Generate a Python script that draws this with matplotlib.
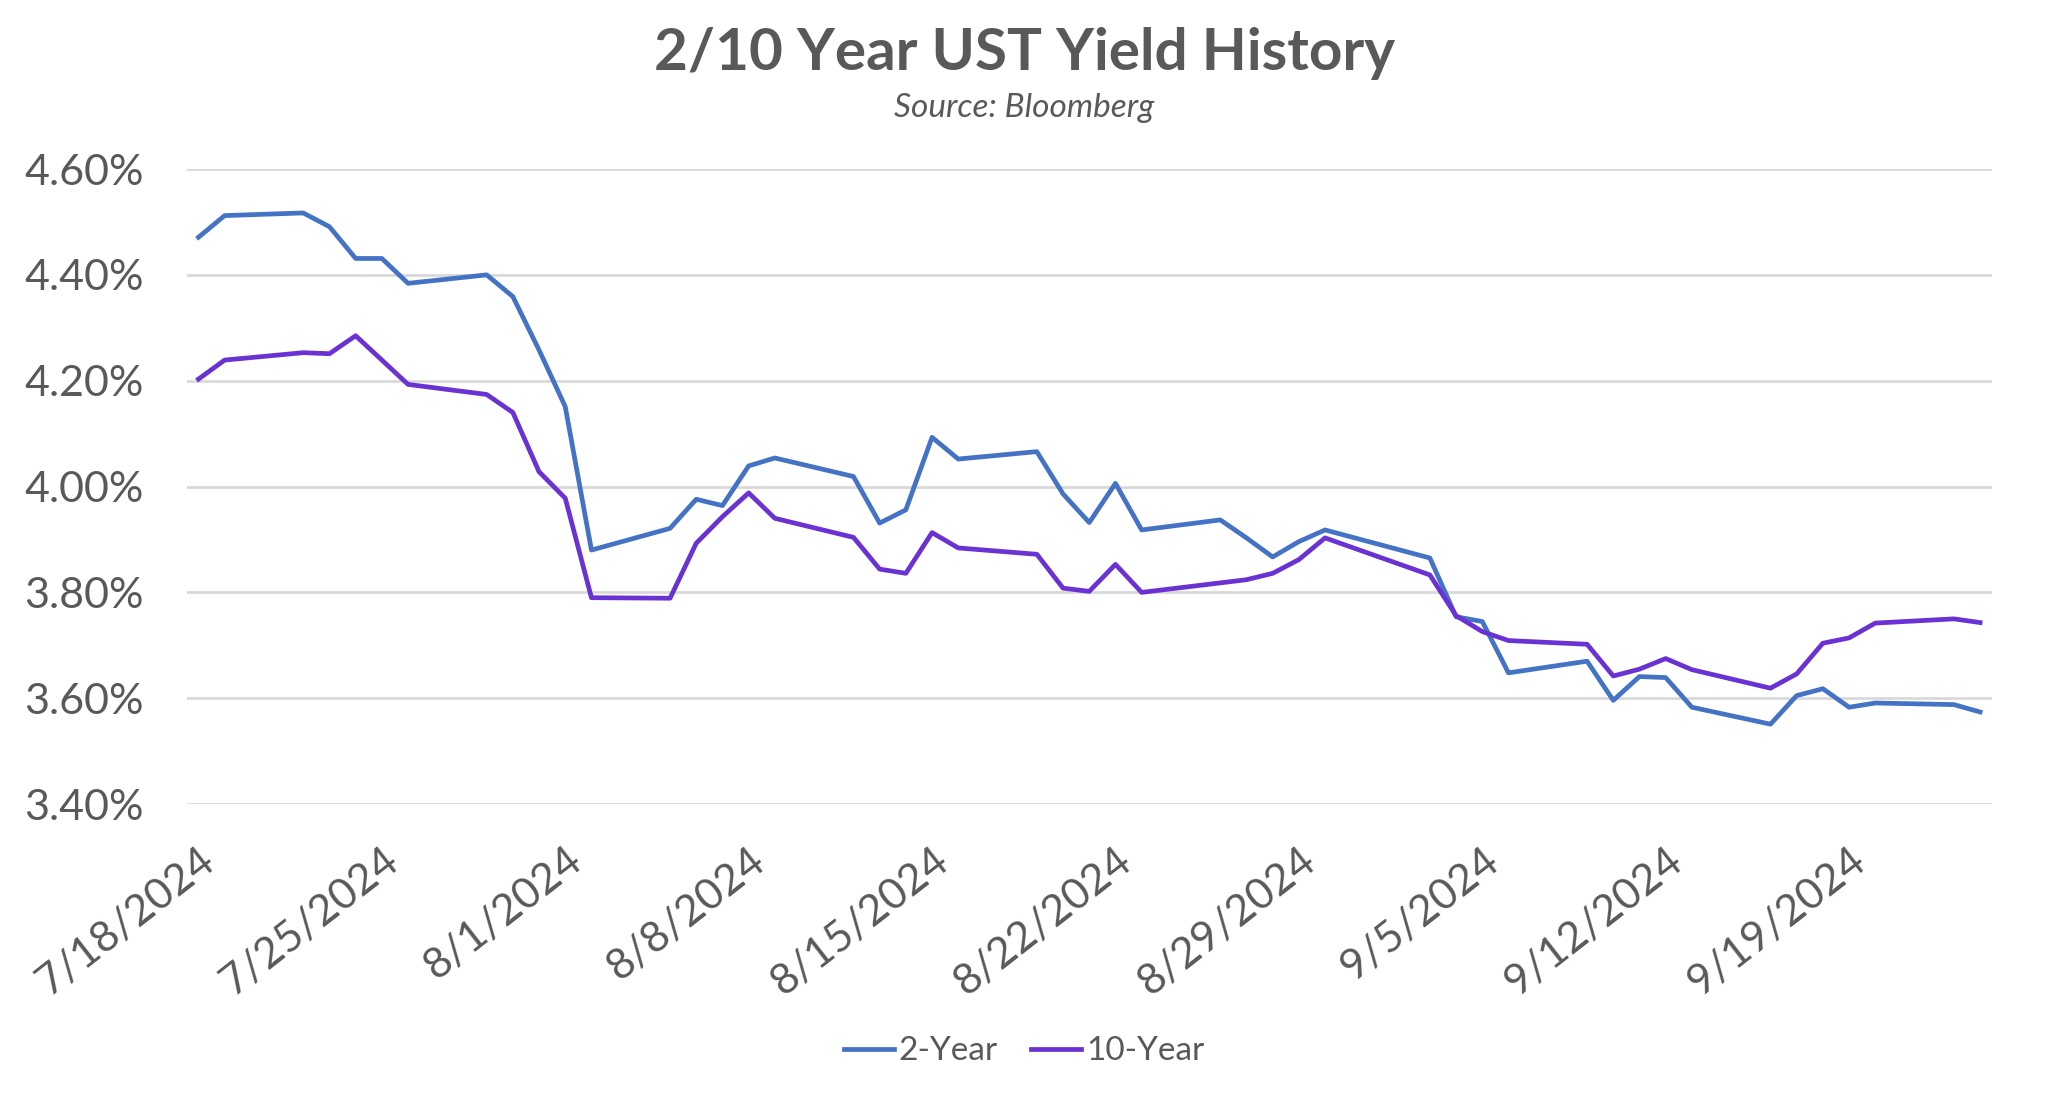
import pandas as pd
import matplotlib.pyplot as plt
from matplotlib.ticker import FuncFormatter

# business days 7/18/2024 - 9/24/2024
dates = pd.to_datetime([
    "2024-07-18", "2024-07-19", "2024-07-22", "2024-07-23", "2024-07-24", "2024-07-25", "2024-07-26",
    "2024-07-29", "2024-07-30", "2024-07-31", "2024-08-01", "2024-08-02",
    "2024-08-05", "2024-08-06", "2024-08-07", "2024-08-08", "2024-08-09",
    "2024-08-12", "2024-08-13", "2024-08-14", "2024-08-15", "2024-08-16",
    "2024-08-19", "2024-08-20", "2024-08-21", "2024-08-22", "2024-08-23",
    "2024-08-26", "2024-08-27", "2024-08-28", "2024-08-29", "2024-08-30",
    "2024-09-03", "2024-09-04", "2024-09-05", "2024-09-06",
    "2024-09-09", "2024-09-10", "2024-09-11", "2024-09-12", "2024-09-13",
    "2024-09-16", "2024-09-17", "2024-09-18", "2024-09-19", "2024-09-20",
    "2024-09-23", "2024-09-24",
])

two_year = [
    4.471, 4.512, 4.517, 4.491, 4.431, 4.431, 4.384,
    4.400, 4.359, 4.258, 4.151, 3.880,
    3.921, 3.976, 3.964, 4.039, 4.054,
    4.019, 3.931, 3.956, 4.093, 4.052,
    4.066, 3.986, 3.932, 4.006, 3.918,
    3.937, 3.903, 3.867, 3.896, 3.918,
    3.865, 3.754, 3.745, 3.648,
    3.670, 3.596, 3.641, 3.639, 3.583,
    3.551, 3.605, 3.618, 3.583, 3.591,
    3.588, 3.574,
]

ten_year = [
    4.203, 4.239, 4.253, 4.251, 4.285, 4.239, 4.193,
    4.174, 4.140, 4.028, 3.978, 3.790,
    3.789, 3.893, 3.943, 3.988, 3.940,
    3.904, 3.844, 3.836, 3.913, 3.884,
    3.872, 3.808, 3.802, 3.853, 3.800,
    3.818, 3.824, 3.836, 3.862, 3.903,
    3.833, 3.756, 3.726, 3.709,
    3.702, 3.642, 3.655, 3.675, 3.654,
    3.619, 3.646, 3.704, 3.714, 3.742,
    3.750, 3.743,
]

y_ticks = [3.40, 3.60, 3.80, 4.00, 4.20, 4.40, 4.60]
x_ticks = pd.date_range("2024-07-18", "2024-09-19", freq="7D")

gray = "#595959"
plt.rcParams["font.family"] = ["Lato", "DejaVu Sans"]

fig = plt.figure(figsize=(20.48, 10.94), dpi=100)
ax = fig.add_axes([0.0913, 0.265, 0.8814, 0.5805])

ax.plot(dates, two_year, color="#4472C4", lw=3.4, label="2-Year")
ax.plot(dates, ten_year, color="#6A32D2", lw=3.4, label="10-Year")

ax.set_ylim(3.40, 4.60)
ax.set_yticks(y_ticks)
ax.yaxis.set_major_formatter(FuncFormatter(lambda v, p: f"{v:.2f}%"))
ax.set_xlim(dates[0] - pd.Timedelta(hours=10.5), dates[-1] + pd.Timedelta(hours=11))
ax.set_xticks(x_ticks)
ax.set_xticklabels([f"{d.month}/{d.day}/{d.year}" for d in x_ticks])

ax.grid(axis="y", color="#d9d9d9", lw=2)
ax.set_axisbelow(True)
for s in ax.spines.values():
    s.set_visible(False)
ax.tick_params(axis="both", length=0, labelsize=31, colors=gray)
ax.tick_params(axis="y", pad=31)
ax.tick_params(axis="x", pad=26)
for lab in ax.get_xticklabels():
    lab.set_rotation(38)
    lab.set_ha("right")
    lab.set_va("top")
    lab.set_rotation_mode("anchor")

fig.text(0.5, 0.951, "2/10 Year UST Yield History", ha="center", va="center",
         fontsize=42, fontweight="bold", color=gray)
fig.text(0.5, 0.901, "Source: Bloomberg", ha="center", va="center",
         fontsize=24, style="italic", color=gray)

fig.legend(loc="center", bbox_to_anchor=(0.5, 0.039), ncol=2, frameon=False,
           fontsize=24, labelcolor=gray, handlelength=1.5, handletextpad=0.15,
           columnspacing=1.0)

fig.savefig("out.png", dpi=100)
